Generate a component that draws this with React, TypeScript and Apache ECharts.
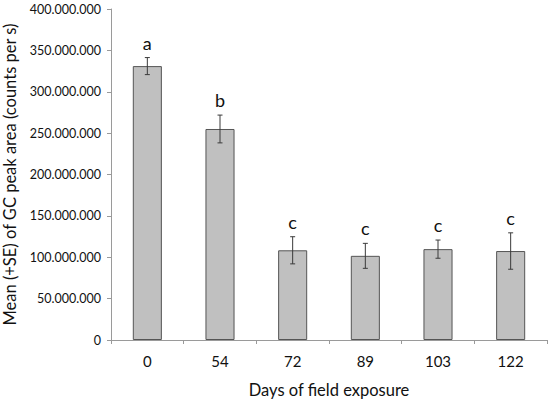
import React, { useEffect, useRef } from "react";
import * as echarts from "echarts";

const categories = ["0", "54", "72", "89", "103", "122"];
const means = [331000000, 255000000, 108400000, 101700000, 109800000, 107500000];
const errors = [10300000, 16800000, 16400000, 15100000, 11000000, 22000000];
const letters = ["a", "b", "c", "c", "c", "c"];

const FONT = "Lato, 'Open Sans', sans-serif";

const fmt = (v: number) => String(Math.round(v)).replace(/\B(?=(\d{3})+(?!\d))/g, ".");

export default function App() {
  const ref = useRef<HTMLDivElement>(null);
  useEffect(() => {
    if (!ref.current) return;
    const chart = echarts.init(ref.current, undefined, { renderer: "svg" });
    const errData = categories.map((_, i) => [i, means[i] - errors[i], means[i] + errors[i]]);
    chart.setOption({
      animation: false,
      grid: { left: 111, right: 3, top: 9, bottom: 60, containLabel: false, outerBoundsMode: "none" },
      xAxis: {
        type: "category",
        data: categories,
        name: "Days of field exposure",
        nameLocation: "middle",
        nameGap: 41,
        nameTextStyle: { fontFamily: FONT, fontSize: 16.5, color: "#111" },
        axisLine: { lineStyle: { color: "#9a9a9a", width: 1 } },
        axisTick: { show: true, length: 4, lineStyle: { color: "#9a9a9a" } },
        axisLabel: { fontFamily: FONT, fontSize: 15, color: "#111", margin: 13 },
      },
      yAxis: {
        type: "value",
        min: 0,
        max: 400000000,
        interval: 50000000,
        name: "Mean (+SE) of GC peak area (counts per s)",
        nameLocation: "middle",
        nameGap: 92,
        nameTextStyle: { fontFamily: FONT, fontSize: 16.5, color: "#111" },
        axisLine: { show: true, lineStyle: { color: "#9a9a9a", width: 1 } },
        axisTick: { show: true, length: 4, inside: false, lineStyle: { color: "#9a9a9a" } },
        splitLine: { show: false },
        axisLabel: { fontFamily: FONT, fontSize: 12.5, color: "#111", margin: 10, formatter: fmt },
      },
      series: [
        {
          type: "bar",
          data: means,
          barWidth: "40%",
          itemStyle: { color: "#c0c0c0", borderColor: "#555555", borderWidth: 1 },
        },
        {
          type: "custom",
          data: errData,
          z: 10,
          renderItem: (params: any, api: any) => {
            const idx = api.value(0);
            const lo = api.coord([idx, api.value(1)]);
            const hi = api.coord([idx, api.value(2)]);
            const x = lo[0];
            const cap = 2.5;
            const style = { stroke: "#3a3a3a", lineWidth: 1 };
            return {
              type: "group",
              children: [
                { type: "line", shape: { x1: x, y1: lo[1], x2: x, y2: hi[1] }, style },
                { type: "line", shape: { x1: x - cap, y1: lo[1], x2: x + cap, y2: lo[1] }, style },
                { type: "line", shape: { x1: x - cap, y1: hi[1], x2: x + cap, y2: hi[1] }, style },
                {
                  type: "text",
                  x: x,
                  y: hi[1] - 15,
                  style: {
                    text: letters[params.dataIndex],
                    fontFamily: FONT,
                    fontSize: 18,
                    fill: "#111",
                    align: "center",
                    verticalAlign: "middle",
                  },
                },
              ],
            };
          },
        },
      ],
    });
    return () => chart.dispose();
  }, []);
  return <div ref={ref} style={{ width: 550, height: 400, position: "absolute", left: 0, top: 0 }} />;
}
